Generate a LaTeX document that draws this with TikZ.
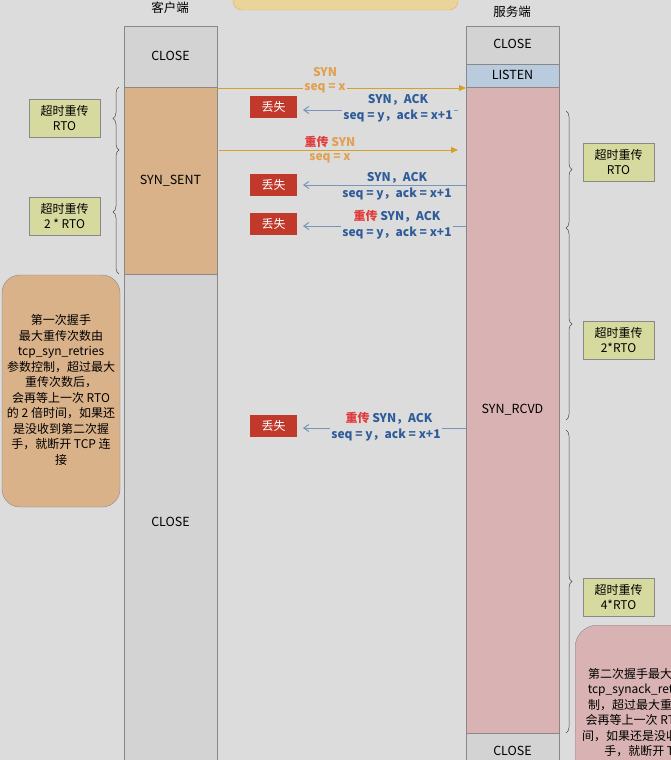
\documentclass[tikz,border=0pt]{standalone}
\usepackage{fontspec}
\setmainfont{Noto Sans CJK SC}
\usetikzlibrary{decorations.pathreplacing,arrows.meta}
\definecolor{bg}{HTML}{DCDCDC}
\definecolor{gr}{HTML}{D3D3D3}
\definecolor{org}{HTML}{DAB28A}
\definecolor{pnk}{HTML}{D9B3B3}
\definecolor{lbl}{HTML}{B9CBDD}
\definecolor{ylw}{HTML}{D7DA9E}
\definecolor{topf}{HTML}{EBD49C}
\definecolor{synC}{HTML}{D4A02A}
\definecolor{ackC}{HTML}{7A93B8}
\definecolor{ackT}{HTML}{2E5C99}
\definecolor{synT}{HTML}{E0A050}
\definecolor{redT}{HTML}{E03C3C}
\definecolor{lost}{HTML}{C0392B}
\definecolor{edge}{HTML}{888888}
\tikzset{
 st/.style={draw=edge,line width=0.6pt},
 tbox/.style={draw=edge,fill=ylw,minimum width=71pt,minimum height=38pt,align=center,inner sep=0pt,font=\fontsize{12}{15}\selectfont},
 lostbox/.style={fill=lost,text=white,minimum width=47pt,minimum height=22pt,inner sep=0pt,font=\fontsize{12}{13}\selectfont},
 lbl/.style={font=\bfseries\fontsize{12}{13}\selectfont,inner sep=1pt},
 synarrow/.style={draw=synC,line width=1pt,-{Triangle[length=7pt,width=6pt]}},
 ackarrow/.style={draw=ackC,line width=1pt,-{Straight Barb[length=5pt,width=7pt]}},
 brc/.style={draw=black!70,line width=0.5pt,decorate,decoration={brace,amplitude=6pt}},
 txt/.style={font=\fontsize{12.5}{15}\selectfont,inner sep=0pt}
}
\begin{document}
\begin{tikzpicture}[x=1pt,y=-1pt]
\fill[bg] (0,0) rectangle (671,760);
\useasboundingbox (0,0) rectangle (671,760);
\clip (0,0) rectangle (671,760);
% top box
\node[draw=synC!80,fill=topf,rounded corners=9pt,minimum width=225pt,minimum height=30pt] (top) at (345.5,-5) {};
\node[txt] (cl) at (170,8) {客户端};
\node[txt] (sv) at (512,12) {服务端};
% client column
\draw[st,fill=gr] (124,26) rectangle (217,87);
\node[txt] (c1) at (170.5,56) {CLOSE};
\draw[st,fill=org] (124,87) rectangle (217,274);
\node[txt] (c2) at (170.5,181) {SYN\_SENT};
\draw[st,fill=gr] (124,274) rectangle (217,770);
\node[txt] (c3) at (170.5,522) {CLOSE};
% server column
\draw[st,fill=gr] (466,26) rectangle (559,64);
\node[txt] (s1) at (512.5,44) {CLOSE};
\draw[st,fill=lbl] (466,64) rectangle (559,87);
\node[txt] (s2) at (512.5,75) {LISTEN};
\draw[st,fill=pnk] (466,87) rectangle (559,733);
\node[txt] (s3) at (512.5,410) {SYN\_RCVD};
\draw[st,fill=gr] (466,733) rectangle (559,770);
\node[txt] (s4) at (512.5,751) {CLOSE};
% coordinates
\coordinate (a1s) at (217,88); \coordinate (a1e) at (466,88);
\coordinate (a2s) at (219,150); \coordinate (a2e) at (458,150);
% SYN
\draw[synarrow] (a1s) -- (a1e);
\node[lbl,text=synT] (l1a) at (325,72) {SYN};
\node[lbl,text=synT,fill=bg] (l1b) at (325,88) {seq = x};
% resend SYN
\draw[synarrow] (a2s) -- (a2e);
\node[lbl] (l2a) at (330,142) {\textcolor{redT}{重传} \textcolor{synT}{SYN}};
\node[lbl,text=synT] (l2b) at (330,158) {seq = x};
% lost boxes
\node[lostbox] (x1) at (273.5,107) {丢失};
\node[lostbox] (x2) at (273.5,184.5) {丢失};
\node[lostbox] (x3) at (273.5,223.5) {丢失};
\node[lostbox] (x4) at (273.5,425.5) {丢失};
% ACKs
\coordinate (b1) at (458,110); \coordinate (e1) at (303,110);
\coordinate (b2) at (466,185); \coordinate (e2) at (303,185);
\coordinate (b3) at (466,226); \coordinate (e3) at (303,226);
\coordinate (b4) at (466,428); \coordinate (e4) at (303,428);
\draw[ackarrow] (b1) -- (e1);
\draw[ackarrow] (b2) -- (e2);
\draw[ackarrow] (b3) -- (e3);
\draw[ackarrow] (b4) -- (e4);
\node[lbl,text=ackT,fill=bg] (m1a) at (398,100) {SYN，ACK};
\node[lbl,text=ackT,fill=bg] (m1b) at (398,116) {seq = y，ack = x+1};
\node[lbl,text=ackT,fill=bg] (m2a) at (397,178) {SYN，ACK};
\node[lbl,text=ackT,fill=bg] (m2b) at (397,194) {seq = y，ack = x+1};
\node[lbl,text=ackT,fill=bg] (m3a) at (397,216) {\textcolor{redT}{重传} SYN，ACK};
\node[lbl,text=ackT,fill=bg] (m3b) at (397,233) {seq = y，ack = x+1};
\node[lbl,text=ackT,fill=bg] (m4a) at (389,418) {\textcolor{redT}{重传} SYN，ACK};
\node[lbl,text=ackT,fill=bg] (m4b) at (386,435) {seq = y，ack = x+1};
% left braces
\coordinate (lb1) at (119,150); \coordinate (lt1) at (119,87);
\coordinate (lb2) at (119,274); \coordinate (lt2) at (119,150);
\draw[brc] (lb1) -- (lt1);
\draw[brc] (lb2) -- (lt2);
\node[tbox] (t1) at (64.5,118) {超时重传\\RTO};
\node[tbox] (t2) at (64.5,216) {超时重传\\2 * RTO};
% right braces
\coordinate (ra1) at (566,111); \coordinate (rb1) at (566,228);
\coordinate (ra2) at (566,228); \coordinate (rb2) at (566,420);
\coordinate (ra3) at (566,430); \coordinate (rb3) at (566,733);
\draw[brc] (ra1) -- (rb1);
\draw[brc] (ra2) -- (rb2);
\draw[brc] (ra3) -- (rb3);
\node[tbox] (t3) at (618.5,162) {超时重传\\RTO};
\node[tbox] (t4) at (618.5,340) {超时重传\\2*RTO};
\node[tbox] (t5) at (618.5,597) {超时重传\\4*RTO};
% notes
\node[draw=edge,fill=org,rounded corners=18pt,minimum width=118pt,minimum height=232pt,inner sep=0pt] (n1) at (61,391) {};
\node[txt,align=center,font=\fontsize{12}{15.5}\selectfont] (n1t) at (61,390) {第一次握手\\最大重传次数由\\tcp\_syn\_retries\\参数控制，超过最大\\重传次数后，\\会再等上一次 RTO\\的 2 倍时间，如果还\\是没收到第二次握\\手，就断开 TCP 连\\接};
\node[draw=edge,fill=pnk,rounded corners=22pt,minimum width=150pt,minimum height=200pt,inner sep=0pt,anchor=north west] (n2) at (575,625) {};
\node[txt,align=center,anchor=north,font=\fontsize{12}{15.5}\selectfont] (n2t) at (660,668) {第二次握手最大重传次数由\\tcp\_synack\_retries 参数控\\制，超过最大重传次数后，\\会再等上一次 RTO 的 2 倍时\\间，如果还是没收到第三次握\\手，就断开 TCP 连接};
\end{tikzpicture}
\end{document}
